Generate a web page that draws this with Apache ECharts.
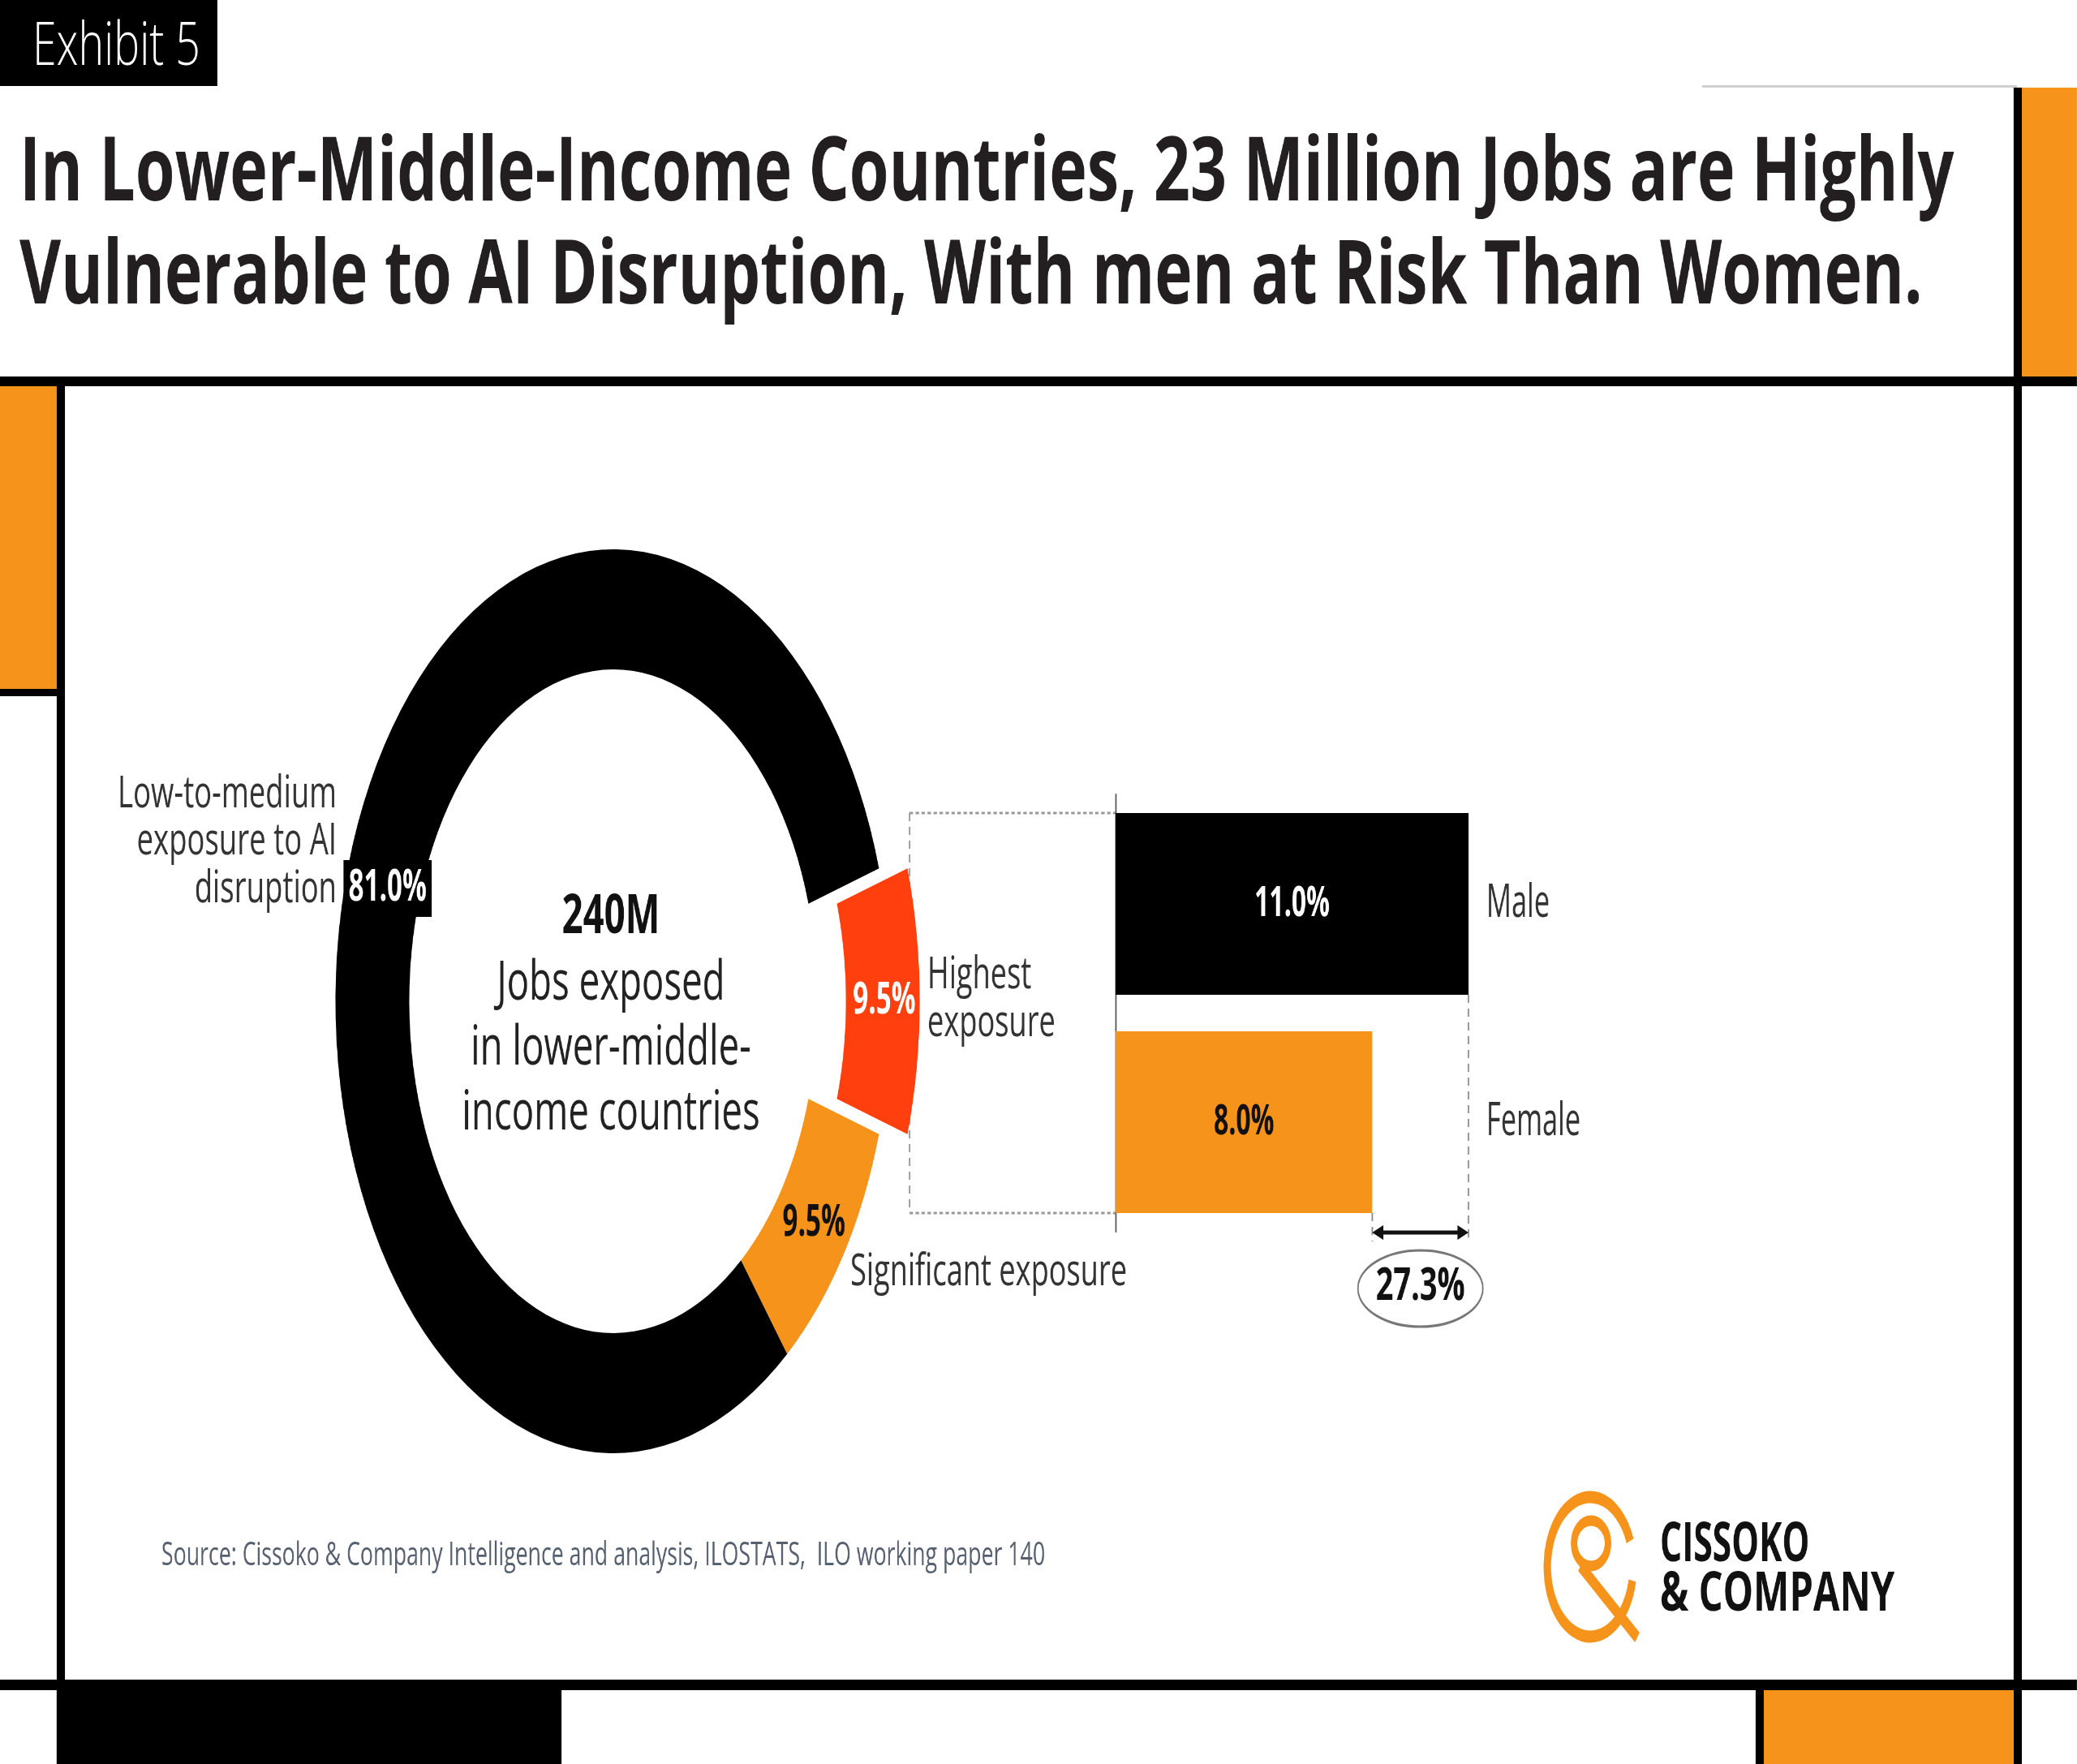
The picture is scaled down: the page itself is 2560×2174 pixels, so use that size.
<!DOCTYPE html>
<html>
<head>
<meta charset="utf-8">
<script src="https://cdn.jsdelivr.net/npm/echarts@6/dist/echarts.min.js"></script>
<style>
  html, body { margin: 0; padding: 0; background: #fff; overflow: hidden; }
  /* the picture is squeezed sideways, so the chart is drawn wide and scaled down */
  #chart { width: 4163px; height: 2174px; transform: scaleX(0.615); transform-origin: 0 0; }
</style>
</head>
<body>
<div id="chart"></div>
<script>
// 240M jobs in lower-middle-income countries, share by AI exposure
var exposureNames = ['Highest exposure', 'Significant exposure', 'Low-to-medium exposure to AI disruption'];
var exposureShares = [9.5, 9.5, 81.0];
var totalJobs = '240M';

// highest-exposure share by gender
var genderNames = ['Male', 'Female'];
var genderShares = [11.0, 8.0];

var S = 0.615;                 // horizontal squeeze of the page
var px = function (x) { return x / S; };
var BLACK = '#000000', RED = '#ff3f0d', ORANGE = '#f6931b';
var FONT = '"Open Sans", "Noto Sans", sans-serif';
var STRETCH = 1.09;            // body text in the original runs a bit wider

var chart = echarts.init(document.getElementById('chart'));

var option = {
    animation: false,
    backgroundColor: '#ffffff',
    grid: { left: px(1375), top: 979.5, width: px(1810) - px(1375), height: 538 },
    xAxis: { type: 'value', min: 0, max: 11, show: false },
    yAxis: [
        {
            type: 'category', data: genderNames, inverse: true,
            axisLine: { show: true, lineStyle: { color: '#555', width: 3 } },
            axisTick: { show: false }, axisLabel: { show: false }
        },
        {
            type: 'category', data: genderNames, inverse: true, position: 'right',
            axisLine: { show: false }, axisTick: { show: false },
            axisLabel: { margin: px(22), fontSize: 56, color: '#333', fontFamily: FONT }
        }
    ],
    series: [
        {
            type: 'pie',
            center: [px(756), 1234],
            radius: [409, 557],
            startAngle: exposureShares[0] / 100 * 180,
            clockwise: true,
            avoidLabelOverlap: false,
            selectedMode: 'single',
            selectedOffset: 57,
            label: {
                position: 'inside', fontFamily: FONT, fontWeight: 'bold', fontSize: 54,
                formatter: function (p) { return p.value.toFixed(1) + '%'; }
            },
            labelLine: { show: false },
            select: { itemStyle: { borderWidth: 0 } },
            data: [
                { name: exposureNames[0], value: exposureShares[0], selected: true,
                  itemStyle: { color: RED }, label: { color: '#fff' },
                  select: { itemStyle: { color: RED, borderWidth: 0 } } },
                { name: exposureNames[1], value: exposureShares[1],
                  itemStyle: { color: ORANGE }, label: { color: '#111' } },
                { name: exposureNames[2], value: exposureShares[2],
                  itemStyle: { color: BLACK },
                  label: { color: '#fff', backgroundColor: BLACK, padding: [8, 10], offset: [12, 4] } }
            ]
        },
        {
            type: 'bar',
            yAxisIndex: 0,
            barCategoryGap: '16.7%',
            label: {
                show: true, position: 'inside', fontFamily: FONT, fontWeight: 'bold', fontSize: 52,
                formatter: function (p) { return p.value.toFixed(1) + '%'; }
            },
            data: [
                { value: genderShares[0], itemStyle: { color: BLACK }, label: { color: '#fff' } },
                { value: genderShares[1], itemStyle: { color: ORANGE }, label: { color: '#111' } }
            ]
        }
    ]
};
chart.setOption(option);

function rect(x, y, w, h, fill) {
    return { type: 'rect', silent: true, shape: { x: px(x), y: y, width: px(w), height: h }, style: { fill: fill } };
}
function text(str, x, y, size, weight, fill, align, stretch, family) {
    return {
        type: 'text', silent: true, x: x, y: y, scaleX: stretch || STRETCH,
        style: {
            text: str, fill: fill, fontSize: size, fontWeight: weight, fontFamily: family || FONT,
            align: align, verticalAlign: 'middle', textAlign: align, textVerticalAlign: 'middle'
        }
    };
}
function line(x1, y1, x2, y2, color, width, dash) {
    return { type: 'line', silent: true, shape: { x1: x1, y1: y1, x2: x2, y2: y2 },
             style: { stroke: color, lineWidth: width, lineDash: dash || null } };
}

// positions taken from the bar axes
var toPx = function (v, c) { return chart.convertToPixel({ xAxisIndex: 0, yAxisIndex: 0 }, [v, c]); };
var m0 = toPx(0, genderNames[0]), f0 = toPx(0, genderNames[1]);
var band = f0[1] - m0[1];
var half = band * (1 - 0.167) / 2;
var x0 = m0[0];
var xMale = toPx(genderShares[0], genderNames[0])[0];
var xFemale = toPx(genderShares[1], genderNames[1])[0];
var boxTop = m0[1] - half, maleBottom = m0[1] + half, boxBottom = f0[1] + half;
var boxLeft = px(1121);
var arrowY = 1519, tickEnd = 1530;
var gap = ((genderShares[0] - genderShares[1]) / genderShares[0] * 100).toFixed(1) + '%';
var midGap = (xMale + xFemale) / 2;

var elements = [
    // frame
    rect(0, 0, 268, 106, BLACK),
    rect(2098, 105, 388, 3, '#d0d0d0'),
    rect(2490, 108, 70, 356, ORANGE),
    rect(0, 464, 2560, 12, BLACK),
    rect(2482, 108, 10, 2066, BLACK),
    rect(0, 476, 70, 373, ORANGE),
    rect(0, 849, 78, 9, BLACK),
    rect(70, 476, 10, 1698, BLACK),
    rect(0, 2070, 2560, 13, BLACK),
    rect(70, 2083, 622, 91, BLACK),
    rect(2164, 2083, 10, 91, BLACK),
    rect(2174, 2083, 308, 91, ORANGE),

    text('Exhibit 5', px(40), 59, 74, 300, '#fff', 'left', 1.18),
    text('In Lower-Middle-Income Countries, 23 Million Jobs are Highly', px(24), 216, 110, 'bold', '#231f20', 'left', 1.165),
    text('Vulnerable to AI Disruption, With men at Risk Than Women.', px(24), 343, 110, 'bold', '#231f20', 'left', 1.165),

    // donut notes
    text('Low-to-medium', px(415), 980, 54, 400, '#333', 'right', 1.1),
    text('exposure to AI', px(415), 1038, 54, 400, '#333', 'right', 1.1),
    text('disruption', px(415), 1097, 54, 400, '#333', 'right', 1.1),
    text(totalJobs, px(753), 1131, 66, 'bold', '#111', 'center', 1.12),
    text('Jobs exposed', px(753), 1213, 68, 400, '#222', 'center'),
    text('in lower-middle-', px(753), 1293, 68, 400, '#222', 'center'),
    text('income countries', px(753), 1373, 68, 400, '#222', 'center'),
    text('Highest', px(1143), 1203, 54, 400, '#333', 'left'),
    text('exposure', px(1143), 1262, 54, 400, '#333', 'left'),
    text('Significant exposure', px(1048), 1569, 54, 400, '#333', 'left'),

    // zoom box from the red slice to the bars
    line(boxLeft, boxTop, x0, boxTop, '#9a9a9a', 3, [7, 5]),
    line(boxLeft, boxTop, boxLeft, boxBottom, '#9a9a9a', 3, [10, 7]),
    line(boxLeft, boxBottom, x0, boxBottom, '#9a9a9a', 3, [7, 5]),

    // gap between male and female
    line(xMale, maleBottom, xMale, tickEnd, '#8a8a8a', 3, [10, 7]),
    line(xFemale, boxBottom, xFemale, tickEnd, '#8a8a8a', 3, [10, 7]),
    line(xFemale + 10, arrowY, xMale - 10, arrowY, '#111', 5),
    { type: 'polygon', silent: true, shape: { points: [[xFemale, arrowY], [xFemale + 22, arrowY - 9], [xFemale + 22, arrowY + 9]] }, style: { fill: '#111' } },
    { type: 'polygon', silent: true, shape: { points: [[xMale, arrowY], [xMale - 22, arrowY - 9], [xMale - 22, arrowY + 9]] }, style: { fill: '#111' } },
    { type: 'ellipse', silent: true, shape: { cx: midGap, cy: 1588, rx: px(77), ry: 47 }, style: { fill: '#fff', stroke: '#777', lineWidth: 3 } },
    text(gap, midGap, 1586, 56, 'bold', '#111', 'center', 1.1),

    // source and logo
    text('Source: Cissoko & Company Intelligence and analysis, ILOSTATS,  ILO working paper 140', px(199), 1918, 40, 400, '#56606e', 'left', 1.085),
    { type: 'arc', silent: true, shape: { cx: px(1960), cy: 1931, r: 86, startAngle: 0.2, endAngle: Math.PI * 2 - 0.38, clockwise: true },
      style: { stroke: ORANGE, lineWidth: 15, fill: null } },
    { type: 'ellipse', silent: true, shape: { cx: px(1961), cy: 1902, rx: 34, ry: 28 }, style: { stroke: ORANGE, lineWidth: 13, fill: null } },
    line(px(1948), 1930, px(2018), 2018, ORANGE, 15),
    text('CISSOKO', px(2046), 1905, 66, 'bold', '#111', 'left', 1.05),
    text('& COMPANY', px(2046), 1966, 66, 'bold', '#111', 'left', 1.16)
];

chart.setOption({ graphic: { elements: elements } });
</script>
</body>
</html>
